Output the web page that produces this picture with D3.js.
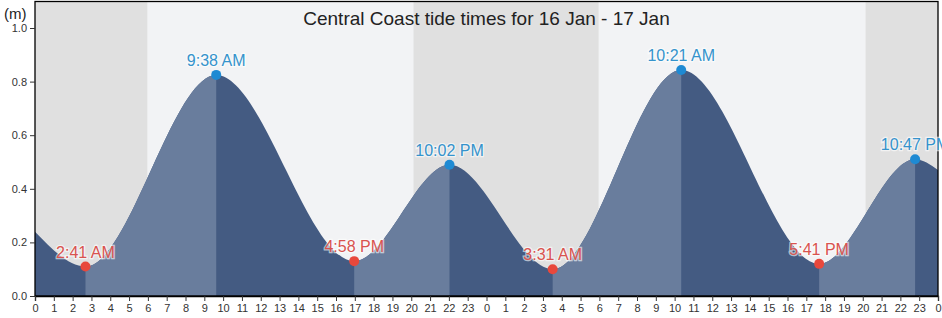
<!DOCTYPE html>
<html>
<head>
<meta charset="utf-8">
<script src="https://cdn.jsdelivr.net/npm/d3@7"></script>
<style>
html,body{margin:0;padding:0;background:#fff;}
svg{display:block;}
text{font-family:"Liberation Sans",Arial,sans-serif;}
</style>
</head>
<body>
<svg id="chart" width="942" height="318"></svg>
<script>
// ---- data ----
const title = "Central Coast tide times for 16 Jan - 17 Jan";
// hours since 00:00 on 16 Jan
const tideHours   = [0, 2.683, 9.633, 16.967, 22.033, 27.517, 34.35, 41.683, 46.783, 48];
const tideHeights = [0.24, 0.11, 0.825, 0.13, 0.49, 0.10, 0.843, 0.12, 0.51, 0.47];
const tideKinds   = ["edge", "low", "high", "low", "high", "low", "high", "low", "high", "edge"];
const tideLabels  = ["", "2:41 AM", "9:38 AM", "4:58 PM", "10:02 PM", "3:31 AM", "10:21 AM", "5:41 PM", "10:47 PM", ""];
const nightStarts = [0, 20.12, 44.15];
const nightEnds   = [5.97, 29.96, 48];
const yTicks = [0, 0.2, 0.4, 0.6, 0.8, 1.0];
const xTickHours = d3.range(0, 49);
const xTickLabels = xTickHours.map(h => String(h % 24));

// ---- layout ----
const svg = d3.select("#chart");
const pLeft = 35, pRight = 938, pTop = 1.5, pBottom = 296;
const x = d3.scaleLinear().domain([0, 48]).range([pLeft, pRight]);
const y = d3.scaleLinear().domain([0, 1.0]).range([pBottom, 28]);

const colDay = "#f2f3f5", colNight = "#e0e0e0";
const colFall = "#445b82", colRise = "#697d9d";
const colHigh = "#1e8ad3", colLow = "#e8483c";
const colHighText = "#3593cc", colLowText = "#d9534f";

// plot background
svg.append("rect").attr("x", pLeft).attr("y", pTop).attr("width", pRight - pLeft).attr("height", pBottom - pTop).attr("fill", colDay);
svg.append("g").selectAll("rect").data(nightStarts).join("rect")
  .attr("x", (d) => x(d))
  .attr("y", pTop)
  .attr("width", (d, i) => x(nightEnds[i]) - x(d))
  .attr("height", pBottom - pTop)
  .attr("fill", colNight);

// tide area
const pts = tideHours.map((h, i) => [h, tideHeights[i]]);
const area = d3.area().x(d => x(d[0])).y0(y(0)).y1(d => y(d[1])).curve(d3.curveMonotoneX);
svg.append("path").attr("d", area(pts)).attr("fill", colFall);

const defs = svg.append("defs");
const rising = [];
for (let i = 0; i < tideKinds.length - 1; i++) {
  if (tideKinds[i] === "low") rising.push([tideHours[i], tideHours[i + 1]]);
}
rising.forEach((r, k) => {
  defs.append("clipPath").attr("id", "rise" + k)
    .append("rect").attr("x", x(r[0])).attr("y", 0).attr("width", x(r[1]) - x(r[0])).attr("height", 318);
  svg.append("path").attr("d", area(pts)).attr("fill", colRise).attr("clip-path", `url(#rise${k})`);
});

// frame
svg.append("rect").attr("x", pLeft).attr("y", pTop).attr("width", pRight - pLeft).attr("height", pBottom - pTop)
  .attr("fill", "none").attr("stroke", "#000").attr("stroke-width", 1.3);

// axes
const yAxis = d3.axisLeft(y).tickValues(yTicks).tickFormat(d3.format(".1f")).tickSize(5).tickPadding(3);
const gy = svg.append("g").attr("transform", `translate(${pLeft},0)`).call(yAxis);
gy.select(".domain").remove();
gy.selectAll("text").attr("font-size", 11).attr("fill", "#333").attr("font-family", "'Liberation Sans',Arial,sans-serif");
gy.selectAll("line").attr("stroke", "#333");

const xAxis = d3.axisBottom(x).tickValues(xTickHours).tickFormat((d, i) => xTickLabels[i]).tickSize(5).tickPadding(3);
const gx = svg.append("g").attr("transform", `translate(0,${pBottom})`).call(xAxis);
gx.select(".domain").attr("stroke", "#000").attr("stroke-width", 1.3);
gx.selectAll("text").attr("font-size", 11).attr("fill", "#333").attr("font-family", "'Liberation Sans',Arial,sans-serif");
gx.selectAll("line").attr("stroke", "#333");

// unit label
svg.append("text").attr("x", 4).attr("y", 19).attr("font-size", 15).attr("fill", "#222").text("(m)");

// title
svg.append("text").attr("x", (pLeft + pRight) / 2).attr("y", 25).attr("text-anchor", "middle")
  .attr("font-size", 19).attr("fill", "#222").text(title);

// extremes
const ext = tideHours.map((h, i) => ({h, v: tideHeights[i], k: tideKinds[i], l: tideLabels[i]})).filter(d => d.k !== "edge");
svg.append("g").selectAll("text").data(ext).join("text")
  .attr("x", d => x(d.h)).attr("y", d => y(d.v) - 9)
  .attr("text-anchor", "middle").attr("font-size", 16)
  .attr("fill", d => d.k === "high" ? colHighText : colLowText)
  .attr("stroke", "#fff").attr("stroke-width", 2.5).attr("stroke-opacity", 0.6)
  .attr("paint-order", "stroke")
  .text(d => d.l);
svg.append("g").selectAll("circle").data(ext).join("circle")
  .attr("cx", d => x(d.h)).attr("cy", d => y(d.v)).attr("r", 5)
  .attr("fill", d => d.k === "high" ? colHigh : colLow);
</script>
</body>
</html>
